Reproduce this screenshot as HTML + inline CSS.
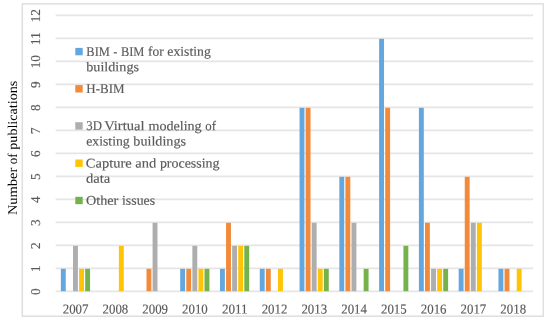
<!DOCTYPE html>
<html><head><meta charset="utf-8"><title>Chart</title>
<style>html,body{margin:0;padding:0;background:#fff}svg{display:block}text{font-family:"Liberation Serif","DejaVu Serif",serif;stroke-width:0.15px;paint-order:stroke;text-rendering:geometricPrecision}</style></head>
<body>
<svg width="550" height="321" viewBox="0 0 550 321">
<rect x="0" y="0" width="550" height="321" fill="#fff"/>
<rect x="22.3" y="3.85" width="521" height="312.35" fill="#fff" stroke="#DFDFDF" stroke-width="1.5"/>
<line x1="55.7" x2="533.1" y1="291.45" y2="291.45" stroke="#E5E5E5" stroke-width="1.7"/>
<line x1="55.7" x2="533.1" y1="268.45" y2="268.45" stroke="#E5E5E5" stroke-width="1.7"/>
<line x1="55.7" x2="533.1" y1="245.45" y2="245.45" stroke="#E5E5E5" stroke-width="1.7"/>
<line x1="55.7" x2="533.1" y1="222.45" y2="222.45" stroke="#E5E5E5" stroke-width="1.7"/>
<line x1="55.7" x2="533.1" y1="199.45" y2="199.45" stroke="#E5E5E5" stroke-width="1.7"/>
<line x1="55.7" x2="533.1" y1="176.45" y2="176.45" stroke="#E5E5E5" stroke-width="1.7"/>
<line x1="55.7" x2="533.1" y1="153.45" y2="153.45" stroke="#E5E5E5" stroke-width="1.7"/>
<line x1="55.7" x2="533.1" y1="130.45" y2="130.45" stroke="#E5E5E5" stroke-width="1.7"/>
<line x1="55.7" x2="533.1" y1="107.45" y2="107.45" stroke="#E5E5E5" stroke-width="1.7"/>
<line x1="55.7" x2="533.1" y1="84.45" y2="84.45" stroke="#E5E5E5" stroke-width="1.7"/>
<line x1="55.7" x2="533.1" y1="61.45" y2="61.45" stroke="#E5E5E5" stroke-width="1.7"/>
<line x1="55.7" x2="533.1" y1="38.45" y2="38.45" stroke="#E5E5E5" stroke-width="1.7"/>
<line x1="55.7" x2="533.1" y1="15.45" y2="15.45" stroke="#E5E5E5" stroke-width="1.7"/>
<rect x="60.85" y="268.80" width="4.9" height="22.40" fill="#64A6DE"/>
<rect x="73.01" y="245.80" width="4.9" height="45.40" fill="#AEAEAE"/>
<rect x="79.09" y="268.80" width="4.9" height="22.40" fill="#FFC405"/>
<rect x="85.17" y="268.80" width="4.9" height="22.40" fill="#75B24C"/>
<text transform="translate(62.74,313.6) rotate(0.03)" font-size="13.6" textLength="25.7" lengthAdjust="spacingAndGlyphs" fill="#595959" stroke="#595959">2007</text>
<rect x="118.87" y="245.80" width="4.9" height="45.40" fill="#FFC405"/>
<text transform="translate(102.53,313.6) rotate(0.03)" font-size="13.6" textLength="25.7" lengthAdjust="spacingAndGlyphs" fill="#595959" stroke="#595959">2008</text>
<rect x="146.50" y="268.80" width="4.9" height="22.40" fill="#F28A3A"/>
<rect x="152.58" y="222.80" width="4.9" height="68.40" fill="#AEAEAE"/>
<text transform="translate(142.31,313.6) rotate(0.03)" font-size="13.6" textLength="25.7" lengthAdjust="spacingAndGlyphs" fill="#595959" stroke="#595959">2009</text>
<rect x="180.20" y="268.80" width="4.9" height="22.40" fill="#64A6DE"/>
<rect x="186.28" y="268.80" width="4.9" height="22.40" fill="#F28A3A"/>
<rect x="192.36" y="245.80" width="4.9" height="45.40" fill="#AEAEAE"/>
<rect x="198.44" y="268.80" width="4.9" height="22.40" fill="#FFC405"/>
<rect x="204.52" y="268.80" width="4.9" height="22.40" fill="#75B24C"/>
<text transform="translate(182.09,313.6) rotate(0.03)" font-size="13.6" textLength="25.7" lengthAdjust="spacingAndGlyphs" fill="#595959" stroke="#595959">2010</text>
<rect x="219.98" y="268.80" width="4.9" height="22.40" fill="#64A6DE"/>
<rect x="226.06" y="222.80" width="4.9" height="68.40" fill="#F28A3A"/>
<rect x="232.14" y="245.80" width="4.9" height="45.40" fill="#AEAEAE"/>
<rect x="238.22" y="245.80" width="4.9" height="45.40" fill="#FFC405"/>
<rect x="244.30" y="245.80" width="4.9" height="45.40" fill="#75B24C"/>
<text transform="translate(221.88,313.6) rotate(0.03)" font-size="13.6" textLength="25.7" lengthAdjust="spacingAndGlyphs" fill="#595959" stroke="#595959">2011</text>
<rect x="259.77" y="268.80" width="4.9" height="22.40" fill="#64A6DE"/>
<rect x="265.85" y="268.80" width="4.9" height="22.40" fill="#F28A3A"/>
<rect x="278.01" y="268.80" width="4.9" height="22.40" fill="#FFC405"/>
<text transform="translate(261.66,313.6) rotate(0.03)" font-size="13.6" textLength="25.7" lengthAdjust="spacingAndGlyphs" fill="#595959" stroke="#595959">2012</text>
<rect x="299.55" y="107.80" width="4.9" height="183.40" fill="#64A6DE"/>
<rect x="305.63" y="107.80" width="4.9" height="183.40" fill="#F28A3A"/>
<rect x="311.71" y="222.80" width="4.9" height="68.40" fill="#AEAEAE"/>
<rect x="317.79" y="268.80" width="4.9" height="22.40" fill="#FFC405"/>
<rect x="323.87" y="268.80" width="4.9" height="22.40" fill="#75B24C"/>
<text transform="translate(301.44,313.6) rotate(0.03)" font-size="13.6" textLength="25.7" lengthAdjust="spacingAndGlyphs" fill="#595959" stroke="#595959">2013</text>
<rect x="339.33" y="176.80" width="4.9" height="114.40" fill="#64A6DE"/>
<rect x="345.41" y="176.80" width="4.9" height="114.40" fill="#F28A3A"/>
<rect x="351.49" y="222.80" width="4.9" height="68.40" fill="#AEAEAE"/>
<rect x="363.65" y="268.80" width="4.9" height="22.40" fill="#75B24C"/>
<text transform="translate(341.22,313.6) rotate(0.03)" font-size="13.6" textLength="25.7" lengthAdjust="spacingAndGlyphs" fill="#595959" stroke="#595959">2014</text>
<rect x="379.12" y="38.80" width="4.9" height="252.40" fill="#64A6DE"/>
<rect x="385.20" y="107.80" width="4.9" height="183.40" fill="#F28A3A"/>
<rect x="403.44" y="245.80" width="4.9" height="45.40" fill="#75B24C"/>
<text transform="translate(381.01,313.6) rotate(0.03)" font-size="13.6" textLength="25.7" lengthAdjust="spacingAndGlyphs" fill="#595959" stroke="#595959">2015</text>
<rect x="418.90" y="107.80" width="4.9" height="183.40" fill="#64A6DE"/>
<rect x="424.98" y="222.80" width="4.9" height="68.40" fill="#F28A3A"/>
<rect x="431.06" y="268.80" width="4.9" height="22.40" fill="#AEAEAE"/>
<rect x="437.14" y="268.80" width="4.9" height="22.40" fill="#FFC405"/>
<rect x="443.22" y="268.80" width="4.9" height="22.40" fill="#75B24C"/>
<text transform="translate(420.79,313.6) rotate(0.03)" font-size="13.6" textLength="25.7" lengthAdjust="spacingAndGlyphs" fill="#595959" stroke="#595959">2016</text>
<rect x="458.68" y="268.80" width="4.9" height="22.40" fill="#64A6DE"/>
<rect x="464.76" y="176.80" width="4.9" height="114.40" fill="#F28A3A"/>
<rect x="470.84" y="222.80" width="4.9" height="68.40" fill="#AEAEAE"/>
<rect x="476.92" y="222.80" width="4.9" height="68.40" fill="#FFC405"/>
<text transform="translate(460.57,313.6) rotate(0.03)" font-size="13.6" textLength="25.7" lengthAdjust="spacingAndGlyphs" fill="#595959" stroke="#595959">2017</text>
<rect x="498.47" y="268.80" width="4.9" height="22.40" fill="#64A6DE"/>
<rect x="504.55" y="268.80" width="4.9" height="22.40" fill="#F28A3A"/>
<rect x="516.71" y="268.80" width="4.9" height="22.40" fill="#FFC405"/>
<text transform="translate(500.36,313.6) rotate(0.03)" font-size="13.6" textLength="25.7" lengthAdjust="spacingAndGlyphs" fill="#595959" stroke="#595959">2018</text>
<text transform="translate(40.1,294.95) rotate(-89.97)" font-size="13.6" textLength="6.60" lengthAdjust="spacingAndGlyphs" fill="#595959" stroke="#595959">0</text>
<text transform="translate(40.1,271.95) rotate(-89.97)" font-size="13.6" textLength="6.60" lengthAdjust="spacingAndGlyphs" fill="#595959" stroke="#595959">1</text>
<text transform="translate(40.1,248.95) rotate(-89.97)" font-size="13.6" textLength="6.60" lengthAdjust="spacingAndGlyphs" fill="#595959" stroke="#595959">2</text>
<text transform="translate(40.1,225.95) rotate(-89.97)" font-size="13.6" textLength="6.60" lengthAdjust="spacingAndGlyphs" fill="#595959" stroke="#595959">3</text>
<text transform="translate(40.1,202.95) rotate(-89.97)" font-size="13.6" textLength="6.60" lengthAdjust="spacingAndGlyphs" fill="#595959" stroke="#595959">4</text>
<text transform="translate(40.1,179.95) rotate(-89.97)" font-size="13.6" textLength="6.60" lengthAdjust="spacingAndGlyphs" fill="#595959" stroke="#595959">5</text>
<text transform="translate(40.1,156.95) rotate(-89.97)" font-size="13.6" textLength="6.60" lengthAdjust="spacingAndGlyphs" fill="#595959" stroke="#595959">6</text>
<text transform="translate(40.1,133.95) rotate(-89.97)" font-size="13.6" textLength="6.60" lengthAdjust="spacingAndGlyphs" fill="#595959" stroke="#595959">7</text>
<text transform="translate(40.1,110.95) rotate(-89.97)" font-size="13.6" textLength="6.60" lengthAdjust="spacingAndGlyphs" fill="#595959" stroke="#595959">8</text>
<text transform="translate(40.1,87.95) rotate(-89.97)" font-size="13.6" textLength="6.60" lengthAdjust="spacingAndGlyphs" fill="#595959" stroke="#595959">9</text>
<text transform="translate(40.1,68.25) rotate(-89.97)" font-size="13.6" textLength="13.20" lengthAdjust="spacingAndGlyphs" fill="#595959" stroke="#595959">10</text>
<text transform="translate(40.1,45.25) rotate(-89.97)" font-size="13.6" textLength="13.20" lengthAdjust="spacingAndGlyphs" fill="#595959" stroke="#595959">11</text>
<text transform="translate(40.1,22.25) rotate(-89.97)" font-size="13.6" textLength="13.20" lengthAdjust="spacingAndGlyphs" fill="#595959" stroke="#595959">12</text>
<text transform="translate(16.90,215.30) rotate(-89.97)" font-size="13.4" fill="#000" stroke="none"><tspan x="0.25" textLength="47.24" lengthAdjust="spacingAndGlyphs">Number</tspan> <tspan x="51.17" textLength="10.71" lengthAdjust="spacingAndGlyphs">of</tspan> <tspan x="65.57" textLength="69.01" lengthAdjust="spacingAndGlyphs">publications</tspan></text>
<rect x="75.3" y="47.90" width="7.4" height="7.4" fill="#64A6DE"/>
<text transform="translate(86.10,55.80) rotate(0.03)" font-size="13.4" fill="#595959" stroke="#595959"><tspan x="0.25" textLength="23.50" lengthAdjust="spacingAndGlyphs">BIM</tspan> <tspan x="27.41" textLength="3.72" lengthAdjust="spacingAndGlyphs">-</tspan> <tspan x="34.80" textLength="23.50" lengthAdjust="spacingAndGlyphs">BIM</tspan> <tspan x="61.97" textLength="15.64" lengthAdjust="spacingAndGlyphs">for</tspan> <tspan x="81.27" textLength="43.40" lengthAdjust="spacingAndGlyphs">existing</tspan></text>
<text transform="translate(86.00,71.20) rotate(0.03)" font-size="13.4" fill="#595959" stroke="#595959"><tspan x="0.25" textLength="52.74" lengthAdjust="spacingAndGlyphs">buildings</tspan></text>
<rect x="75.3" y="85.10" width="7.4" height="7.4" fill="#F28A3A"/>
<text transform="translate(86.10,93.00) rotate(0.03)" font-size="13.4" fill="#595959" stroke="#595959"><tspan x="0.25" textLength="38.26" lengthAdjust="spacingAndGlyphs">H-BIM</tspan></text>
<rect x="75.3" y="122.20" width="7.4" height="7.4" fill="#AEAEAE"/>
<text transform="translate(86.10,130.10) rotate(0.03)" font-size="13.4" fill="#595959" stroke="#595959"><tspan x="0.25" textLength="15.64" lengthAdjust="spacingAndGlyphs">3D</tspan> <tspan x="18.06" textLength="40.43" lengthAdjust="spacingAndGlyphs">Virtual</tspan> <tspan x="62.36" textLength="53.21" lengthAdjust="spacingAndGlyphs">modeling</tspan> <tspan x="119.23" textLength="10.64" lengthAdjust="spacingAndGlyphs">of</tspan></text>
<text transform="translate(86.00,145.50) rotate(0.03)" font-size="13.4" fill="#595959" stroke="#595959"><tspan x="0.25" textLength="43.40" lengthAdjust="spacingAndGlyphs">existing</tspan> <tspan x="47.32" textLength="52.74" lengthAdjust="spacingAndGlyphs">buildings</tspan></text>
<rect x="75.3" y="159.50" width="7.4" height="7.4" fill="#FFC405"/>
<text transform="translate(86.10,167.40) rotate(0.03)" font-size="13.4" fill="#595959" stroke="#595959"><tspan x="-0.25" textLength="45.78" lengthAdjust="spacingAndGlyphs">Capture</tspan> <tspan x="49.19" textLength="20.95" lengthAdjust="spacingAndGlyphs">and</tspan> <tspan x="73.81" textLength="59.58" lengthAdjust="spacingAndGlyphs">processing</tspan></text>
<text transform="translate(86.00,182.80) rotate(0.03)" font-size="13.4" fill="#595959" stroke="#595959"><tspan x="-0.05" textLength="24.34" lengthAdjust="spacingAndGlyphs">data</tspan></text>
<rect x="75.3" y="196.80" width="7.4" height="7.4" fill="#75B24C"/>
<text transform="translate(86.10,204.70) rotate(0.03)" font-size="13.4" fill="#595959" stroke="#595959"><tspan x="-0.15" textLength="32.34" lengthAdjust="spacingAndGlyphs">Other</tspan> <tspan x="35.95" textLength="33.01" lengthAdjust="spacingAndGlyphs">issues</tspan></text>
</svg></body></html>
